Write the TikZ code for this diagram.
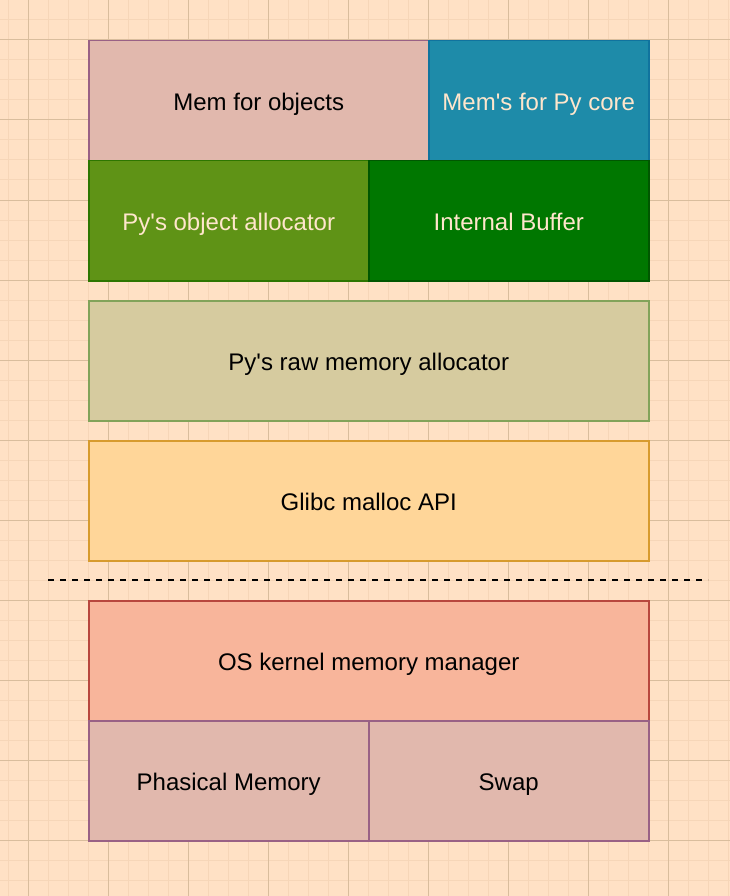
\documentclass[tikz,border=0pt]{standalone}
\usepackage{fontspec}
\setmainfont{Liberation Sans}
\definecolor{bg}{HTML}{FFE1C5}
\definecolor{gminor}{HTML}{F6D6B8}
\definecolor{gmajor}{HTML}{D9BD9D}
\definecolor{pinkf}{HTML}{E1B8AD}
\definecolor{pinkd}{HTML}{996185}
\definecolor{bluef}{HTML}{1E8BA9}
\definecolor{blued}{HTML}{10739E}
\definecolor{lgreenf}{HTML}{5F9316}
\definecolor{lgreend}{HTML}{2D7600}
\definecolor{dgreenf}{HTML}{007700}
\definecolor{dgreend}{HTML}{005700}
\definecolor{olivef}{HTML}{D6CB9F}
\definecolor{olived}{HTML}{82A35A}
\definecolor{orangef}{HTML}{FFD699}
\definecolor{oranged}{HTML}{D79B2E}
\definecolor{redf}{HTML}{F8B59B}
\definecolor{redd}{HTML}{B8473E}
\definecolor{lighttext}{HTML}{FFE6CC}
\tikzset{
  layer/.style={draw, line width=1.5pt, minimum height=120pt, inner sep=0pt, text height=19pt, text depth=0pt, font=\fontsize{24}{28}\selectfont, anchor=north west},
}
\begin{document}
\begin{tikzpicture}[x=1pt,y=-1pt]
\useasboundingbox (0,0) rectangle (730,896);
\fill[bg] (0,0) rectangle (730,896);
% grid
\foreach \x in {8,28,...,728} \draw[gminor, line width=1pt] (\x,0) -- (\x,896);
\foreach \y in {0,20,...,880} \draw[gminor, line width=1pt] (0,\y) -- (730,\y);
\foreach \x in {28,108,...,728} \draw[gmajor, line width=1pt] (\x,0) -- (\x,896);
\foreach \y in {40,120,...,880} \draw[gmajor, line width=1pt] (0,\y) -- (730,\y);
% boxes
\node[layer, fill=pinkf, draw=pinkd, minimum width=340pt] (memobj) at (88,40) {Mem for objects};
\node[layer, fill=bluef, draw=blued, text=lighttext, minimum width=220pt] (memcore) at (428,40) {Mem\textquotesingle s for Py core};
\node[layer, fill=lgreenf, draw=lgreend, text=lighttext, minimum width=280pt] (objalloc) at (88,160) {Py\textquotesingle s object allocator};
\node[layer, fill=dgreenf, draw=dgreend, text=lighttext, minimum width=280pt] (buffer) at (368,160) {Internal Buffer};
\node[layer, fill=olivef, draw=olived, minimum width=560pt] (raw) at (88,300) {Py\textquotesingle s raw memory allocator};
\node[layer, fill=orangef, draw=oranged, minimum width=560pt] (glibc) at (88,440) {Glibc malloc API};
\coordinate (dl) at (48,580);
\coordinate (dr) at (708,580);
\draw[line width=2pt, dash pattern=on 6pt off 6pt] (dl) -- (dr);
\node[layer, fill=redf, draw=redd, minimum width=560pt] (kernel) at (88,600) {OS kernel memory manager};
\node[layer, fill=pinkf, draw=pinkd, minimum width=280pt] (phys) at (88,720) {Phasical Memory};
\node[layer, fill=pinkf, draw=pinkd, minimum width=280pt] (swap) at (368,720) {Swap};
\end{tikzpicture}
\end{document}
